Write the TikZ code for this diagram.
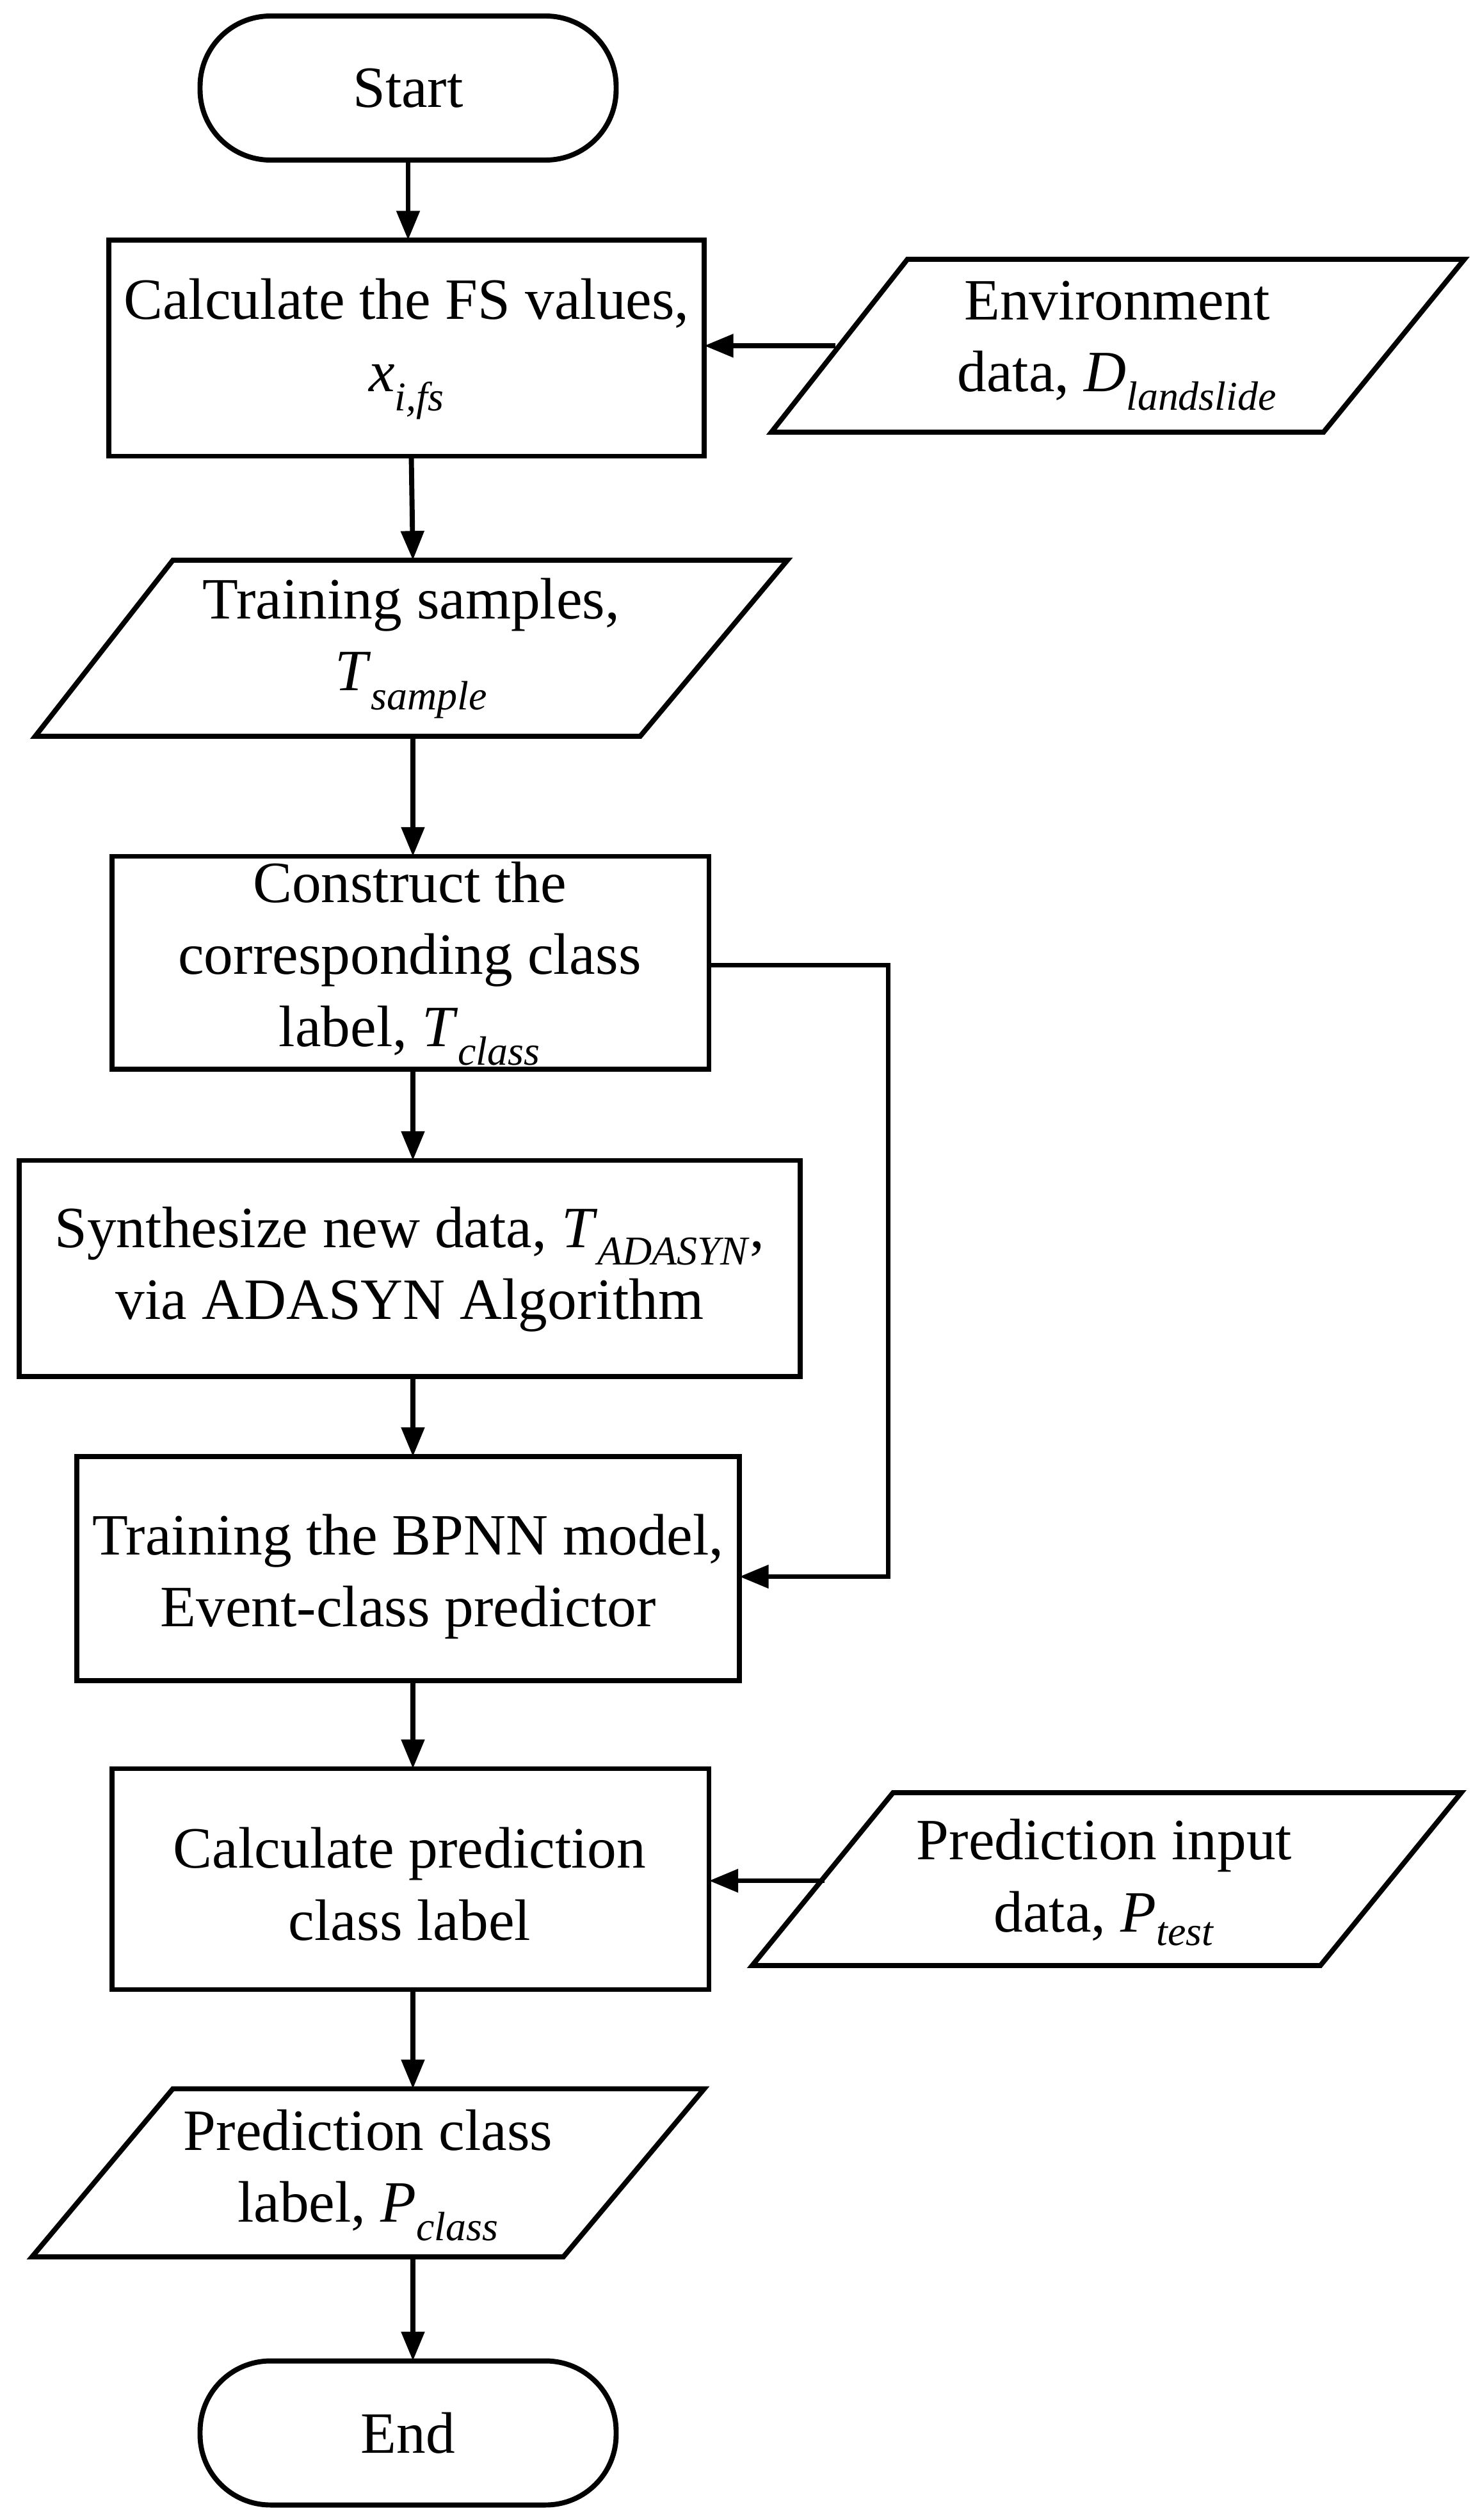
\documentclass[tikz,border=0pt]{standalone}
\usepackage{fontspec}
\setmainfont{Liberation Serif}
\usetikzlibrary{arrows.meta}
\newcommand{\sub}[2]{\textit{#1}\textsubscript{\textit{#2}}}
\begin{document}
\begin{tikzpicture}[x=0.05cm,y=-0.05cm,
  ln/.style={line width=4.5pt},
  arr/.style={line width=4.5pt,-{Triangle[length=26pt,width=20pt]}},
  txt/.style={align=center,font=\fontsize{52}{64}\selectfont}]
\useasboundingbox (0,0) rectangle (920.4,1574.4);
% Start
\draw[ln,rounded corners=2.2cm] (125,10) rectangle (385,100);
\node[txt] (start) at (255,55) {Start};
\coordinate (startb) at (255,100);
% box1
\draw[ln] (68,150) rectangle (440,285);
\node[txt] (b1) at (254,218) {Calculate the FS values,\\ \sub{x}{i,fs}};
\coordinate (b1t) at (255,150); \coordinate (b1r) at (440,216); \coordinate (b1b) at (257,285);
% env
\draw[ln] (567,162) -- (915,162) -- (827,270) -- (482,270) -- cycle;
\node[txt] (env) at (698,216) {Environment\\ data, \sub{D}{landslide}};
\coordinate (envl) at (522,216);
% training
\draw[ln] (108,350) -- (492,350) -- (400,460) -- (22,460) -- cycle;
\node[txt] (tr) at (257,405) {Training samples,\\ \sub{T}{sample}};
\coordinate (trt) at (258,350); \coordinate (trb) at (258,460);
% box3
\draw[ln] (70,535) rectangle (443,668);
\node[txt] (b3) at (256,602) {Construct the\\ corresponding class\\ label, \sub{T}{class}};
\coordinate (b3t) at (258,535); \coordinate (b3r) at (443,603); \coordinate (b3b) at (258,668);
\coordinate (bend1) at (555,603); \coordinate (bend2) at (555,985);
% box4
\draw[ln] (12,725) rectangle (500,860);
\node[txt] (b4) at (256,793) {Synthesize new data, \sub{T}{ADASYN},\\ via ADASYN Algorithm};
\coordinate (b4t) at (258,725); \coordinate (b4b) at (258,860);
% box5
\draw[ln] (48,910) rectangle (462,1050);
\node[txt] (b5) at (255,985) {Training the BPNN model,\\ Event-class predictor};
\coordinate (b5t) at (258,910); \coordinate (b5r) at (462,985); \coordinate (b5b) at (258,1050);
% box6
\draw[ln] (70,1105) rectangle (443,1243);
\node[txt] (b6) at (256,1177) {Calculate prediction\\ class label};
\coordinate (b6t) at (258,1105); \coordinate (b6r) at (443,1175); \coordinate (b6b) at (258,1243);
% pred input
\draw[ln] (558,1120) -- (913,1120) -- (825,1228) -- (470,1228) -- cycle;
\node[txt] (pin) at (690,1176) {Prediction input\\ data, \sub{P}{test}};
\coordinate (pinl) at (515,1175);
% pred class
\draw[ln] (108,1305) -- (440,1305) -- (352,1410) -- (20,1410) -- cycle;
\node[txt] (pc) at (230,1359) {Prediction class\\ label, \sub{P}{class}};
\coordinate (pct) at (258,1305); \coordinate (pcb) at (258,1410);
% End
\draw[ln,rounded corners=2.2cm] (125,1475) rectangle (385,1565);
\node[txt] (end) at (255,1520) {End};
\coordinate (endt) at (258,1475);
% connectors
\draw[arr] (startb) -- (b1t);
\draw[arr] (envl) -- (b1r);
\draw[arr] (b1b) -- (trt);
\draw[arr] (trb) -- (b3t);
\draw[arr] (b3b) -- (b4t);
\draw[arr] (b4b) -- (b5t);
\draw[arr] (b3r) -- (bend1) -- (bend2) -- (b5r);
\draw[arr] (b5b) -- (b6t);
\draw[arr] (pinl) -- (b6r);
\draw[arr] (b6b) -- (pct);
\draw[arr] (pcb) -- (endt);
\end{tikzpicture}
\end{document}
